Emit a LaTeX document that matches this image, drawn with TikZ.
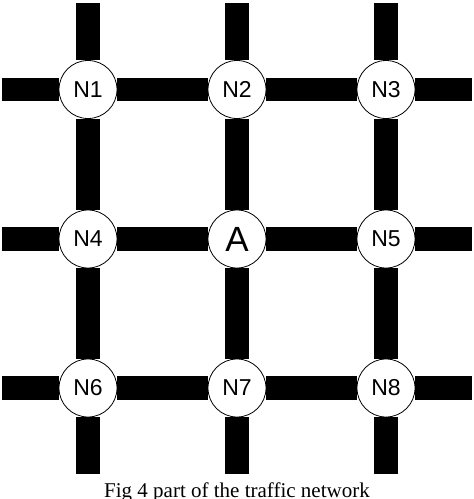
\documentclass[tikz,border=0pt]{standalone}
\usepackage{fontspec}
\setmainfont{Liberation Serif}
\setsansfont{Liberation Sans}
\usetikzlibrary{backgrounds}

\tikzset{
  crossing/.style={circle, draw=black, line width=0.4pt, fill=white, minimum size=29pt, inner sep=0pt, font=\sffamily\fontsize{11.5}{11.5}\selectfont},
  road/.style={line width=11.8pt, black}
}

\begin{document}
\begin{tikzpicture}[x=0.5pt,y=-0.5pt]
\useasboundingbox (0,0) rectangle (474,499);

% crossings
\node[crossing] (n1) at (88,89.5) {N1};
\node[crossing] (n2) at (237,89.5) {N2};
\node[crossing] (n3) at (386,89.5) {N3};
\node[crossing] (n4) at (88,239) {N4};
\node[crossing, font=\sffamily\fontsize{17.5}{17.5}\selectfont] (a) at (237,239) {A};
\node[crossing] (n5) at (386,239) {N5};
\node[crossing] (n6) at (88,388) {N6};
\node[crossing] (n7) at (237,388) {N7};
\node[crossing] (n8) at (386,388) {N8};

% road ends
\foreach \x/\i in {88/1,237/2,386/3}{
  \coordinate (top\i) at (\x,3);
  \coordinate (bot\i) at (\x,474);
}
\foreach \y/\i in {89.5/1,239/2,388/3}{
  \coordinate (west\i) at (2,\y);
  \coordinate (east\i) at (472,\y);
}

% roads
\begin{scope}[on background layer]
\draw[road] (west1) -- (n1) -- (n2) -- (n3) -- (east1);
\draw[road] (west2) -- (n4) -- (a) -- (n5) -- (east2);
\draw[road] (west3) -- (n6) -- (n7) -- (n8) -- (east3);
\draw[road] (top1) -- (n1) -- (n4) -- (n6) -- (bot1);
\draw[road] (top2) -- (n2) -- (a) -- (n7) -- (bot2);
\draw[road] (top3) -- (n3) -- (n5) -- (n8) -- (bot3);
\end{scope}

% caption
\node[anchor=base, inner sep=0pt, font=\fontsize{10.5}{10.5}\selectfont] (caption) at (237,497) {Fig 4 part of the traffic network};
\end{tikzpicture}
\end{document}
